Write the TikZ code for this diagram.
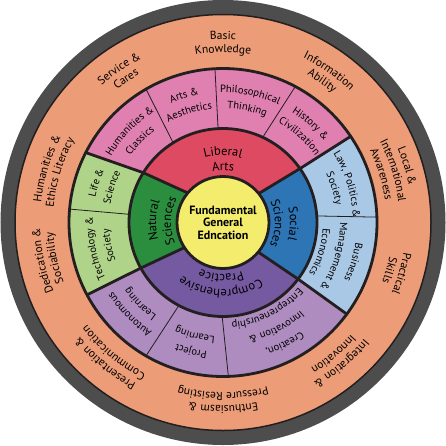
\documentclass[tikz,border=0pt]{standalone}
\usepackage{fontspec}
\setmainfont{PT Sans}
\usetikzlibrary{decorations.text}
\definecolor{ringgray}{HTML}{4D4D4D}
\definecolor{inkline}{HTML}{231F20}
\definecolor{orangec}{HTML}{EC9C76}
\definecolor{pinkc}{HTML}{DF80B0}
\definecolor{redc}{HTML}{DE4A61}
\definecolor{lgreenc}{HTML}{B0D38A}
\definecolor{dgreenc}{HTML}{2B8E3E}
\definecolor{lbluec}{HTML}{A9C8E6}
\definecolor{dbluec}{HTML}{2E75B6}
\definecolor{lpurplec}{HTML}{AE8CBF}
\definecolor{dpurplec}{HTML}{7559A1}
\definecolor{yellowc}{HTML}{F3EC6C}
\newcommand\szA{\fontsize{11.5}{13}\selectfont}
\newcommand\szB{\fontsize{10.5}{12}\selectfont}
\newcommand\szC{\fontsize{12.5}{14}\selectfont}
% curved text: angle, baseline radius, font, text
\newcommand\ctxt[4]{\path[decorate,decoration={text along path,text align=center,text={|#3|#4}}] ({#1+90}:#2) arc[start angle={#1+90},end angle={#1-90},radius=#2];}
% sector: colour, rin, rout, a1 in, a1 out, a2 in, a2 out
\newcommand\sect[7]{\fill[#1] (#4:#2) -- (#5:#3) arc[start angle=#5,end angle=#7,radius=#3] -- (#6:#2) arc[start angle=#6,end angle=#4,radius=#2] -- cycle;}
\tikzset{
  thickline/.style={draw=inkline,line width=2.8pt},
  thinline/.style={draw=inkline,line width=0.8pt},
}
\begin{document}
\begin{tikzpicture}[x=1pt,y=1pt]
\useasboundingbox (-223,-222.5) rectangle (223,222.5);
\fill[ringgray] (0,0) circle[radius=222.5];
\fill[orangec] (0,0) circle[radius=208];
\draw[inkline,line width=1.5pt] (0,0) circle[radius=208];
% second ring
\sect{pinkc}{94}{154}{35}{34}{148}{153}
\sect{lgreenc}{94}{154}{148}{153}{209}{208}
\sect{lpurplec}{94}{154}{209}{208}{323}{323.5}
\sect{lbluec}{94}{154}{-37}{-36.5}{35}{34}
% inner ring
\sect{redc}{46}{94}{39}{35}{140}{148}
\sect{dgreenc}{46}{94}{140}{148}{213}{209}
\sect{dpurplec}{46}{94}{213}{209}{320}{323}
\sect{dbluec}{46}{94}{-40}{-37}{39}{35}
% thin subdividers
\draw[thinline] (65:94)--(62:154);
\draw[thinline] (93:94)--(93:154);
\draw[thinline] (122:94)--(120:154);
\draw[thinline] (175:94)--(175:154);
\draw[thinline] (4:94)--(2:154);
\draw[thinline] (242:94)--(240:154);
\draw[thinline] (269.5:94)--(272:154);
% thick dividers
\draw[thickline] (39:46)--(35:94)--(34:154);
\draw[thickline] (140:46)--(148:94)--(153:154);
\draw[thickline] (213:46)--(209:94)--(208:154);
\draw[thickline] (-40:46)--(-37:94)--(-36.5:154);
\draw[thickline] (0,0) circle[radius=94];
\draw[thickline] (0,0) circle[radius=154];
\draw[thickline,fill=yellowc] (0,0) circle[radius=46];
\node[align=center,font=\bfseries\fontsize{12}{12.5}\selectfont] (core) at (0,0) {Fundamental\\General\\Edncation};
% inner ring labels
\ctxt{90}{67}{\szC}{Liberal}
\ctxt{90}{52}{\szC}{Arts}
\ctxt{178}{67}{\szC}{Natural}
\ctxt{178}{52}{\szC}{Sciences}
\ctxt{-1}{67}{\szC}{Social}
\ctxt{-1}{52}{\szC}{Sciences}
\ctxt{-92}{67}{\szC}{Comprehensive}
\ctxt{-92}{52}{\szC}{Practice}
% second ring labels
\ctxt{48.5}{130}{\szB}{History {\&}}
\ctxt{48.5}{114}{\szB}{Civilization}
\ctxt{78}{130}{\szB}{Philosophical}
\ctxt{78}{114}{\szB}{Thinking}
\ctxt{107}{130}{\szB}{Arts {\&}}
\ctxt{107}{114}{\szB}{Aesthetics}
\ctxt{135.5}{130}{\szB}{Humanities {\&}}
\ctxt{135.5}{114}{\szB}{Classics}
\ctxt{162.5}{130}{\szB}{Life {\&}}
\ctxt{162.5}{114}{\szB}{Science}
\ctxt{191.5}{130}{\szB}{Technology {\&}}
\ctxt{191.5}{114}{\szB}{Society}
\ctxt{17}{130}{\szB}{Law, Politics {\&}}
\ctxt{17}{114}{\szB}{Society}
\ctxt{-17}{134}{\szB}{Business}
\ctxt{-17}{117}{\szB}{Management {\&}}
\ctxt{-17}{100}{\szB}{Economics}
\ctxt{224.5}{130}{\szB}{Autonomous}
\ctxt{224.5}{114}{\szB}{Learning}
\ctxt{256}{130}{\szB}{Project}
\ctxt{256}{114}{\szB}{Learning}
\ctxt{297}{134}{\szB}{Creation,}
\ctxt{297}{117}{\szB}{Innovation {\&}}
\ctxt{297}{100}{\szB}{Entrepreneurship}
% outer ring labels
\ctxt{90}{183}{\szA}{Basic}
\ctxt{90}{170}{\szA}{Knowledge}
\ctxt{55}{183}{\szA}{Information}
\ctxt{55}{170}{\szA}{Ability}
\ctxt{17}{189.5}{\szA}{Local {\&}}
\ctxt{17}{176.5}{\szA}{International}
\ctxt{17}{163.5}{\szA}{Awareness}
\ctxt{-16}{183}{\szA}{Practical}
\ctxt{-16}{170}{\szA}{Skills}
\ctxt{-50}{183}{\szA}{Integration {\&}}
\ctxt{-50}{170}{\szA}{Innovation}
\ctxt{-90}{183}{\szA}{Enthusiasm {\&}}
\ctxt{-90}{170}{\szA}{Pressure Resisting}
\ctxt{-130}{183}{\szA}{Presentation {\&}}
\ctxt{-130}{170}{\szA}{Communication}
\ctxt{-168}{183}{\szA}{Dedication {\&}}
\ctxt{-168}{170}{\szA}{Sociability}
\ctxt{163}{183}{\szA}{Humanities {\&}}
\ctxt{163}{170}{\szA}{Ethics Literacy}
\ctxt{124}{183}{\szA}{Service {\&}}
\ctxt{124}{170}{\szA}{Cares}
\end{tikzpicture}
\end{document}
